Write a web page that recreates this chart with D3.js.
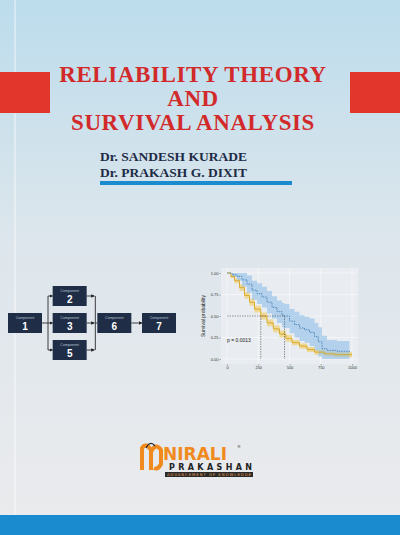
<!DOCTYPE html>
<html><head><meta charset="utf-8">
<script src="https://cdn.jsdelivr.net/npm/d3@7"></script>
<style>body{margin:0}svg{display:block}</style>
</head><body>
<svg id="cover" width="400" height="535"></svg>
<script>
// ===== Data =====
const titleLines  = ['RELIABILITY THEORY', 'AND', 'SURVIVAL ANALYSIS'];
const authors     = ['Dr. SANDESH KURADE', 'Dr. PRAKASH G. DIXIT'];
const xTicks      = [0, 250, 500, 750, 1000];
const yTicks      = [0, 0.25, 0.5, 0.75, 1];
const blueTime    = [0, 40, 80, 120, 160, 200, 240, 280, 320, 360, 400, 440, 460, 500, 540, 580, 620, 660, 700, 730, 760, 800, 880, 980];
const blueSurv    = [1, 0.98, 0.96, 0.92, 0.87, 0.8, 0.76, 0.72, 0.66, 0.6, 0.55, 0.51, 0.5, 0.44, 0.4, 0.36, 0.34, 0.31, 0.26, 0.2, 0.12, 0.1, 0.09, 0.08];
const blueBand    = [0, 0.03, 0.05, 0.08, 0.1, 0.11, 0.12, 0.12, 0.13, 0.13, 0.13, 0.14, 0.14, 0.14, 0.15, 0.15, 0.15, 0.16, 0.16, 0.17, 0.15, 0.12, 0.12, 0.18];
const yellowTime  = [0, 30, 60, 100, 140, 180, 220, 270, 320, 370, 420, 470, 520, 580, 640, 700, 780, 860, 1000];
const yellowSurv  = [1, 0.96, 0.91, 0.83, 0.74, 0.66, 0.58, 0.5, 0.42, 0.35, 0.29, 0.24, 0.19, 0.15, 0.11, 0.08, 0.06, 0.05, 0.05];
const yellowBand  = [0, 0.02, 0.03, 0.04, 0.04, 0.04, 0.04, 0.04, 0.04, 0.04, 0.04, 0.04, 0.03, 0.03, 0.03, 0.03, 0.03, 0.03, 0.03];
const medians     = [270, 460];
const blocks      = [
  {id: '1', col: 0, row: 1}, {id: '2', col: 1, row: 0}, {id: '3', col: 1, row: 1},
  {id: '5', col: 1, row: 2}, {id: '6', col: 2, row: 1}, {id: '7', col: 3, row: 1}
];

const svg = d3.select('#cover');

// ===== Background =====
const defs = svg.append('defs');
const grad = defs.append('linearGradient').attr('id', 'bg').attr('x1', 0).attr('y1', 0).attr('x2', 0).attr('y2', 1);
grad.append('stop').attr('offset', '0%').attr('stop-color', '#bcdcec');
grad.append('stop').attr('offset', '45%').attr('stop-color', '#dde6ec');
grad.append('stop').attr('offset', '100%').attr('stop-color', '#ebebed');
svg.append('rect').attr('width', 400).attr('height', 535).attr('fill', 'url(#bg)');
svg.append('line').attr('x1', 15).attr('x2', 15).attr('y1', 0).attr('y2', 515)
  .attr('stroke', '#fff').attr('stroke-opacity', 0.5).attr('stroke-width', 1.5);
svg.append('rect').attr('y', 515).attr('width', 400).attr('height', 20).attr('fill', '#1b8bcf');

// ===== Title block =====
svg.append('rect').attr('x', 0).attr('y', 72).attr('width', 50).attr('height', 41).attr('fill', '#e2352b');
svg.append('rect').attr('x', 350).attr('y', 72).attr('width', 50).attr('height', 41).attr('fill', '#e2352b');
svg.selectAll('text.title').data(titleLines).join('text')
  .attr('class', 'title').attr('x', 193).attr('y', (d, i) => 82 + i * 24)
  .attr('text-anchor', 'middle')
  .style('font-family', 'Liberation Serif, serif').style('font-weight', 'bold')
  .style('font-size', '23px').style('letter-spacing', '0.6px').style('fill', '#d22a2a').text(d => d);
svg.selectAll('text.author').data(authors).join('text')
  .attr('class', 'author').attr('x', 100).attr('y', (d, i) => 161 + i * 16)
  .style('font-family', 'Liberation Serif, serif').style('font-weight', 'bold')
  .style('font-size', '13.5px').style('fill', '#1d2b47').text(d => d);
svg.append('rect').attr('x', 100).attr('y', 181).attr('width', 192).attr('height', 4).attr('fill', '#1b8bcf');

// ===== Block diagram =====
const bx = d3.scalePoint().domain([0, 1, 2, 3]).range([25, 159]);
const by = d3.scalePoint().domain([0, 1, 2]).range([296, 350]);
const bw = 34, bh = 20;
defs.append('marker').attr('id', 'ah').attr('markerWidth', 4).attr('markerHeight', 4)
  .attr('refX', 3.5).attr('refY', 2).attr('orient', 'auto')
  .append('polygon').attr('points', '0 0, 4 2, 0 4').attr('fill', '#222');
const dg = svg.append('g').attr('stroke', '#2a2a2a').attr('stroke-width', 0.9).attr('fill', 'none');
const c1 = bx(0) + bw / 2, c2 = bx(1) - bw / 2, c3 = bx(1) + bw / 2, c4 = bx(2) - bw / 2;
const vx1 = c1 + 6, vx2 = c4 - 2;
dg.append('line').attr('x1', c1).attr('x2', vx1).attr('y1', by(1)).attr('y2', by(1));
dg.append('line').attr('x1', vx1).attr('x2', vx1).attr('y1', by(0)).attr('y2', by(2));
[0, 1, 2].forEach(r => {
  dg.append('line').attr('x1', vx1).attr('x2', c2).attr('y1', by(r)).attr('y2', by(r)).attr('marker-end', 'url(#ah)');
  dg.append('line').attr('x1', c3).attr('x2', vx2 - 1).attr('y1', by(r)).attr('y2', by(r)).attr('marker-end', 'url(#ah)');
});
dg.append('line').attr('x1', vx2).attr('x2', vx2).attr('y1', by(0)).attr('y2', by(2));
dg.append('line').attr('x1', vx2).attr('x2', c4).attr('y1', by(1)).attr('y2', by(1));
dg.append('line').attr('x1', bx(2) + bw / 2).attr('x2', bx(3) - bw / 2).attr('y1', by(1)).attr('y2', by(1)).attr('marker-end', 'url(#ah)');
const bg = svg.selectAll('g.blk').data(blocks).join('g').attr('class', 'blk')
  .attr('transform', d => `translate(${bx(d.col) - bw / 2},${by(d.row) - bh / 2})`);
bg.append('rect').attr('width', bw).attr('height', bh).attr('fill', '#1f2d46');
bg.append('text').attr('x', bw / 2).attr('y', 5.5).attr('text-anchor', 'middle')
  .style('font-family', 'Liberation Sans, sans-serif').style('font-size', '3.6px').style('fill', '#b7c2d4').text('Component');
bg.append('text').attr('x', bw / 2).attr('y', 17).attr('text-anchor', 'middle')
  .style('font-family', 'Liberation Sans, sans-serif').style('font-weight', 'bold').style('font-size', '10px').style('fill', '#fff').text(d => d.id);

// ===== Survival chart =====
const x = d3.scaleLinear().domain([0, 1000]).range([227, 352]);
const y = d3.scaleLinear().domain([0, 1]).range([359, 273]);
const pg = svg.append('g');
pg.append('rect').attr('x', 221).attr('y', 268).attr('width', 137).attr('height', 96).attr('fill', '#e9ecf0');
pg.selectAll('line.gx').data(xTicks).join('line').attr('class', 'gx')
  .attr('x1', x).attr('x2', x).attr('y1', 268).attr('y2', 364).attr('stroke', '#fff').attr('stroke-width', 0.5);
pg.selectAll('line.gy').data(yTicks).join('line').attr('class', 'gy')
  .attr('y1', y).attr('y2', y).attr('x1', 221).attr('x2', 358).attr('stroke', '#fff').attr('stroke-width', 0.5);

function series(t, s, b) { return t.map((d, i) => ({t: d, s: s[i], lo: Math.max(0, s[i] - b[i]), hi: Math.min(1, s[i] + b[i])})); }
const blue = series(blueTime, blueSurv, blueBand);
const yellow = series(yellowTime, yellowSurv, yellowBand);
const area = d3.area().curve(d3.curveStepAfter).x(d => x(d.t)).y0(d => y(d.lo)).y1(d => y(d.hi));
const line = d3.line().curve(d3.curveStepAfter).x(d => x(d.t)).y(d => y(d.s));
pg.append('path').attr('d', area(yellow)).attr('fill', '#f3c94a').attr('opacity', 0.55);
pg.append('path').attr('d', area(blue)).attr('fill', '#8fc0ea').attr('opacity', 0.6);
pg.append('path').attr('d', line(yellow)).attr('fill', 'none').attr('stroke', '#d8a620').attr('stroke-width', 0.9);
pg.append('path').attr('d', line(blue)).attr('fill', 'none').attr('stroke', '#3a78b0').attr('stroke-width', 0.8).attr('stroke-dasharray', '1.5,1');
// median lines
pg.append('line').attr('x1', x(0)).attr('x2', x(medians[1])).attr('y1', y(0.5)).attr('y2', y(0.5))
  .attr('stroke', '#333').attr('stroke-width', 0.5).attr('stroke-dasharray', '1.5,1');
pg.selectAll('line.med').data(medians).join('line').attr('class', 'med')
  .attr('x1', x).attr('x2', x).attr('y1', y(0.5)).attr('y2', y(0))
  .attr('stroke', '#333').attr('stroke-width', 0.5).attr('stroke-dasharray', '1.5,1');
pg.append('text').attr('x', x(0)).attr('y', y(0.2)).style('font-family', 'Liberation Sans, sans-serif')
  .style('font-size', '5px').style('fill', '#222').text('p = 0.0013');
// axes
const ax = pg.append('g').attr('transform', 'translate(0,364)')
  .call(d3.axisBottom(x).tickValues(xTicks).tickFormat(d3.format('d')).tickSize(1.5).tickPadding(1));
const ay = pg.append('g').attr('transform', 'translate(221,0)')
  .call(d3.axisLeft(y).tickValues(yTicks).tickFormat(d3.format('.2f')).tickSize(1.5).tickPadding(1));
[ax, ay].forEach(a => {
  a.select('.domain').remove();
  a.selectAll('line').attr('stroke', '#444').attr('stroke-width', 0.4);
  a.selectAll('text').style('font-size', '4px').style('font-family', 'Liberation Sans, sans-serif').attr('fill', '#333');
});
pg.append('text').attr('transform', 'translate(205,316) rotate(-90)').attr('text-anchor', 'middle')
  .style('font-family', 'Liberation Sans, sans-serif').style('font-size', '5px').style('fill', '#222').text('Survival probability');

// ===== Publisher logo =====
const lg = svg.append('g').attr('transform', 'translate(140,440)');
lg.append('path').attr('d', 'M2,30 L2,8 Q6,2 11,10 L11,30 M11,12 Q16,2 21,10 L21,24 Q18,30 14,28')
  .attr('fill', 'none').attr('stroke', '#f08a1e').attr('stroke-width', 4).attr('stroke-linejoin', 'round');
lg.append('path').attr('d', 'M6,8 Q10,0 15,6').attr('fill', 'none').attr('stroke', '#222').attr('stroke-width', 1.2);
lg.append('text').attr('x', 23).attr('y', 20).style('font-family', 'DejaVu Sans, sans-serif').style('font-weight', 'bold')
  .style('font-size', '17px').style('fill', '#f08a1e').text('NIRALI');
lg.append('text').attr('x', 97).attr('y', 8).style('font-family', 'DejaVu Sans').style('font-size', '4px').style('fill', '#444').text('®');
lg.append('text').attr('x', 29).attr('y', 30).attr('textLength', 83).style('font-family', 'DejaVu Sans, sans-serif').style('font-weight', 'bold')
  .style('font-size', '8px').style('fill', '#222').text('PRAKASHAN');
lg.append('rect').attr('x', 25).attr('y', 32).attr('width', 88).attr('height', 5).attr('fill', '#2a2a2a');
lg.append('text').attr('x', 27).attr('y', 36).attr('textLength', 84).style('font-family', 'DejaVu Sans, sans-serif')
  .style('font-size', '3.8px').style('fill', '#f0a050').text('ADVANCEMENT OF KNOWLEDGE');
</script>
</body></html>
